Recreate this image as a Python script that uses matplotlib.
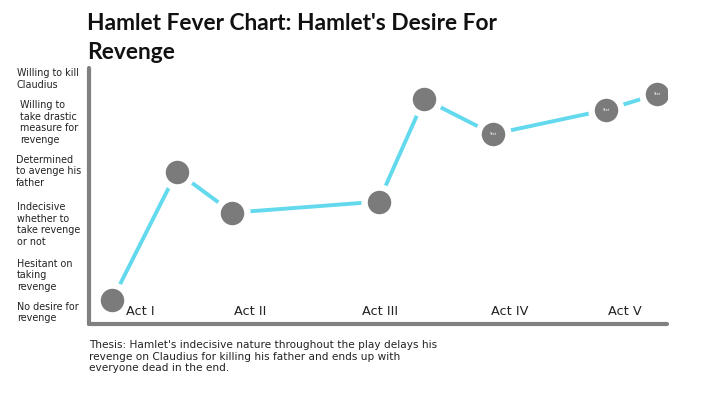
import matplotlib
matplotlib.use("Agg")
import matplotlib.pyplot as plt
import matplotlib.transforms as mtransforms

# ---- data ----
title = "Hamlet Fever Chart: Hamlet's Desire For\nRevenge"
x_pos = [4.0, 15.2, 24.8, 50.1, 58.0, 69.9, 89.4, 98.3]
desire = [9.4, 59.5, 43.5, 47.8, 87.9, 74.2, 83.6, 89.8]
point_tags = ["", "", "", "", "", "Text", "Text", "Text"]
act_labels = ["Act I", "Act II", "Act III", "Act IV", "Act V"]
act_pos = [8.8, 27.9, 50.3, 72.8, 92.7]
level_labels = [
    "Willing to kill\nClaudius",
    "Willing to\ntake drastic\nmeasure for\nrevenge",
    "Determined\nto avenge his\nfather",
    "Indecisive\nwhether to\ntake revenge\nor not",
    "Hesitant on\ntaking\nrevenge",
    "No desire for\nrevenge",
]
level_pos = [95.7, 78.7, 59.6, 38.9, 19.1, 4.5]
level_x = [0.024, 0.028, 0.023, 0.024, 0.024, 0.024]
thesis = ("Thesis: Hamlet's indecisive nature throughout the play delays his\n"
          "revenge on Claudius for killing his father and ends up with\n"
          "everyone dead in the end.")

GREY = "#7b7b7b"
CYAN = "#63d9ee"
AXGREY = "#808080"
FONT = ["DejaVu Sans"]
TFONT = ["Lato", "DejaVu Sans"]

fig = plt.figure(figsize=(7.04, 3.96), dpi=100)
fig.patch.set_facecolor("white")
ax = fig.add_axes([89/704, (396-324)/396, (667-89)/704, (324-68)/396])
ax.set_xlim(0, 100)
ax.set_ylim(0, 100)
ax.patch.set_alpha(0)
for s in ["top", "right"]:
    ax.spines[s].set_visible(False)
for s in ["left", "bottom"]:
    ax.spines[s].set_color(AXGREY)
    ax.spines[s].set_linewidth(3.0)
    ax.spines[s].set_capstyle("round")
ax.set_xticks([])
ax.set_yticks([])

ax.plot(x_pos, desire, color=CYAN, lw=2.8, solid_capstyle="round", zorder=2)
ax.plot(x_pos, desire, linestyle="none", marker="o", ms=21.5,
        markerfacecolor=GREY, markeredgecolor="white", markeredgewidth=4.6, zorder=3)
for x, y, t in zip(x_pos, desire, point_tags):
    if t:
        ax.text(x, y, t, color="white", fontsize=2.6, ha="center", va="center",
                family=FONT, zorder=4)

for x, t in zip(act_pos, act_labels):
    ax.text(x, 4.9, t, ha="center", va="center", fontsize=9.3, color="#222222",
            family=FONT)

tr = mtransforms.blended_transform_factory(fig.transFigure, ax.transData)
for lx, y, t in zip(level_x, level_pos, level_labels):
    fig.text(lx, y, t, transform=tr, ha="left", va="center", fontsize=6.9,
             color="#222222", family=FONT, linespacing=1.18)

fig.text(87/704, 1 - 13/396, title, ha="left", va="top", fontsize=16.4,
         fontweight="bold", color="#111111", family=TFONT, linespacing=1.45)

fig.text(89/704, 1 - 340/396, thesis, ha="left", va="top", fontsize=7.6,
         color="#222222", family=FONT, linespacing=1.2)

fig.savefig("out.png", dpi=100, facecolor="white")
